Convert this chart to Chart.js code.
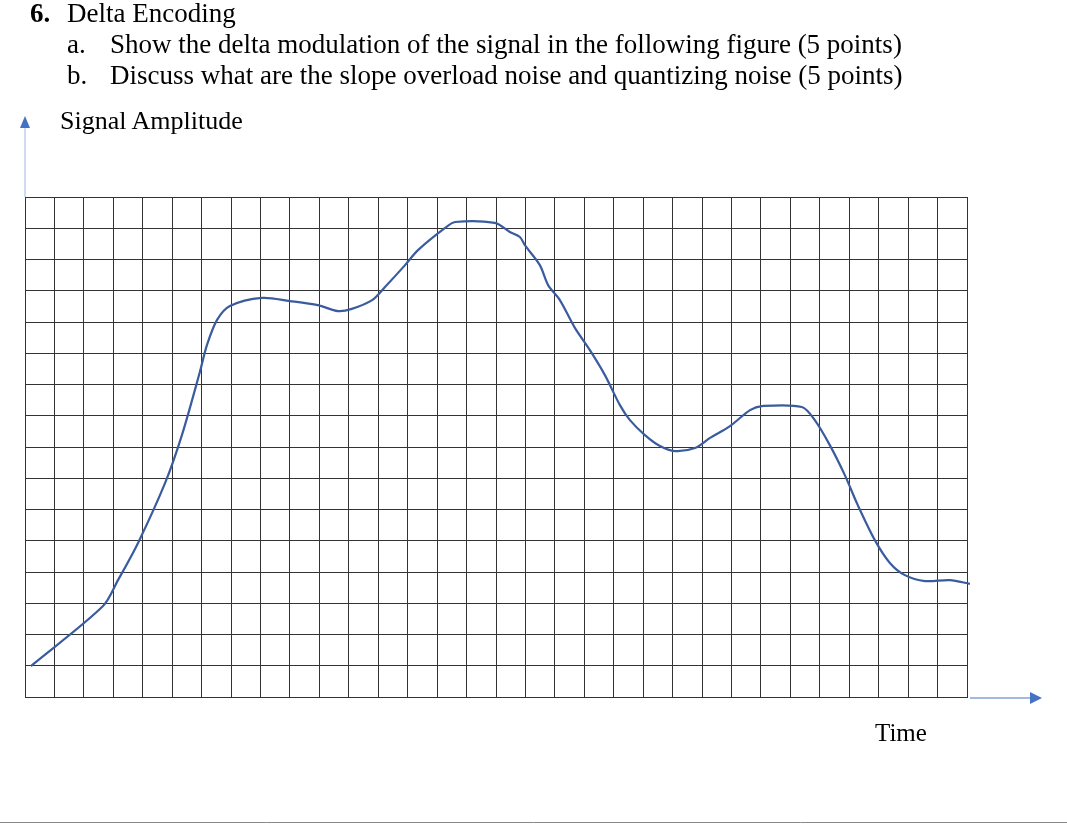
<!DOCTYPE html>
<html><head><meta charset="utf-8">
<script src="https://cdn.jsdelivr.net/npm/chart.js@4"></script>
<style>
body{margin:0;background:#fff;font-family:"Liberation Serif","Times New Roman",serif;}
#wrap{position:relative;width:1067px;height:824px;}
canvas{position:absolute;left:0;top:0;}
.t{position:absolute;white-space:nowrap;color:#000;font-size:27px;line-height:1;}
</style></head><body>
<div id="wrap">
<canvas id="c" width="1067" height="824"></canvas>
<div class="t" style="left:30px;top:0px;"><b>6.</b></div>
<div class="t" style="left:67px;top:0px;">Delta Encoding</div>
<div class="t" style="left:67px;top:31px;">a.</div>
<div class="t" style="left:110px;top:31px;">Show the delta modulation of the signal in the following figure (5 points)</div>
<div class="t" style="left:67px;top:62px;">b.</div>
<div class="t" style="left:110px;top:62px;">Discuss what are the slope overload noise and quantizing noise (5 points)</div>
<div class="t" style="left:60px;top:108px;font-size:26px;">Signal Amplitude</div>
<div class="t" style="left:875px;top:720px;font-size:25px;">Time</div>
</div>
<script>
const timeX = [0.2,2.65,3.16,3.84,4.76,5.33,5.94,6.18,6.52,6.96,8.05,9.0,9.95,10.63,11.1,11.79,12.23,12.91,13.35,14.27,14.61,15.96,16.47,16.81,16.98,17.49,17.77,18.17,18.68,19.19,19.7,20.21,20.55,21.06,21.57,22.08,22.76,23.27,23.95,24.63,25.03,26.39,26.83,27.34,27.85,28.29,28.87,29.38,29.89,30.57,31.42,32.1];
const amplitude = [0.99,2.91,3.74,4.93,6.85,8.38,10.4,11.26,12.06,12.51,12.77,12.67,12.54,12.35,12.42,12.7,13.12,13.82,14.3,15.01,15.2,15.17,14.88,14.72,14.46,13.82,13.18,12.7,11.81,11.1,10.3,9.34,8.86,8.38,8.03,7.87,7.97,8.29,8.67,9.18,9.31,9.28,8.86,8.06,7.1,6.14,5.02,4.29,3.9,3.71,3.74,3.62];
const gridCols = 32, gridRows = 16;
const pts = timeX.map((x,i)=>({x, y: amplitude[i]}));
const arrows = {id:'arrows', afterDraw(ch){
  const c=ch.ctx, a=ch.chartArea; c.save();
  c.fillStyle='#4472C4'; c.lineWidth=1;
  c.strokeStyle='#9DB7E8';
  c.beginPath(); c.moveTo(a.left, a.top); c.lineTo(a.left, 128); c.stroke();
  c.beginPath(); c.moveTo(a.left,116); c.lineTo(a.left-5,128); c.lineTo(a.left+5,128); c.closePath(); c.fill();
  c.strokeStyle='#4472C4';
  c.beginPath(); c.moveTo(a.right+3, a.bottom+1); c.lineTo(1030, a.bottom+1); c.stroke();
  c.beginPath(); c.moveTo(1042,a.bottom+1); c.lineTo(1030,a.bottom-5); c.lineTo(1030,a.bottom+7); c.closePath(); c.fill();
  c.strokeStyle='#888'; c.beginPath(); c.moveTo(0,822.5); c.lineTo(1067,822.5); c.stroke();
  c.restore();
}};
new Chart(document.getElementById('c'),{
  type:'line',
  data:{datasets:[{data:pts,borderColor:'#3A5C9E',borderWidth:2.2,pointRadius:0,tension:0.3,fill:false,clip:false}]},
  options:{responsive:false,animation:false,
    layout:{padding:{left:25,top:197,right:100,bottom:127}},
    plugins:{legend:{display:false},tooltip:{enabled:false}},
    scales:{
      x:{type:'linear',min:0,max:gridCols,ticks:{display:false,stepSize:1},grid:{color:'#333',lineWidth:1,drawTicks:false},border:{color:'#333'}},
      y:{type:'linear',min:0,max:gridRows,ticks:{display:false,stepSize:1},grid:{color:'#333',lineWidth:1,drawTicks:false},border:{color:'#333'}}
    }},
  plugins:[arrows]
});
</script></body></html>
